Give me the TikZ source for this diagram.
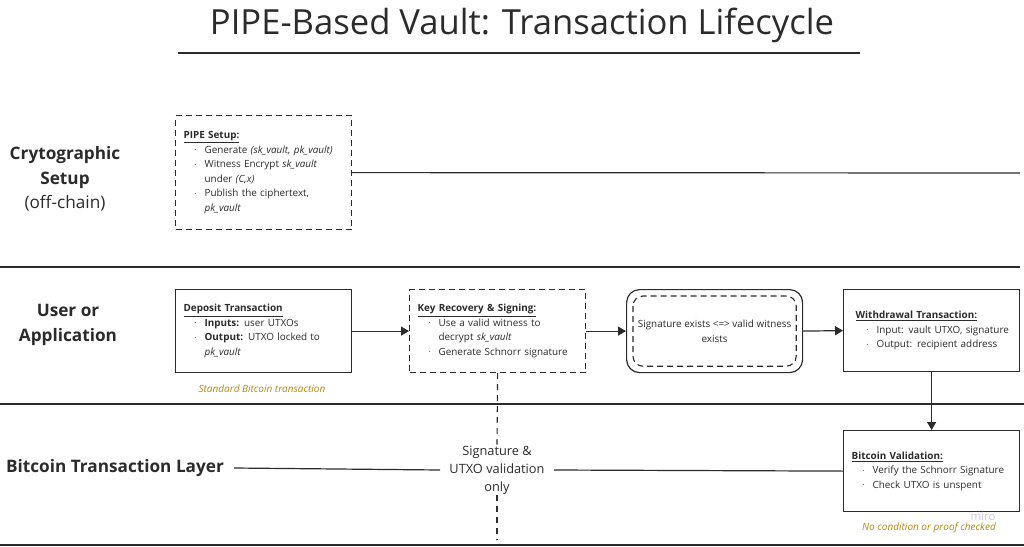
\documentclass[tikz,border=0pt]{standalone}
\usepackage{fontspec}
\setmainfont{Open Sans}
\usetikzlibrary{arrows.meta}
\definecolor{gold}{HTML}{B8860B}
\definecolor{ink}{HTML}{2B2B2B}
\definecolor{miroc}{HTML}{C9C9DD}
\newcommand{\bl}{\leavevmode\hbox to 21pt{\hskip 11pt\raisebox{1.5pt}{\fontsize{4.5}{4.5}\selectfont\textbullet}\hss}}
\newcommand{\ind}{\leavevmode\hbox to 21pt{\hss}}
\newcommand{\sh}{\leavevmode\hbox to 4pt{\hss}}
\newcommand{\hd}[1]{\underline{\textbf{#1}}}
\tikzset{
  box/.style={draw=ink, line width=1.2pt, anchor=north west, inner xsep=8pt,
    text width=160pt, align=left, font=\fontsize{9.9}{14.5}\selectfont, text=ink},
  dbox/.style={box, dash pattern=on 6pt off 4pt},
  conn/.style={draw=ink, line width=1.2pt, -{Triangle[length=8pt,width=9pt]}},
  plain/.style={draw=ink, line width=1.2pt},
  lane/.style={font=\fontsize{17.2}{24.5}\selectfont, align=center, text=ink},
  gnote/.style={font=\fontsize{10}{10}\selectfont\itshape, text=gold},
}
\begin{document}
\begin{tikzpicture}[x=1pt,y=-1pt]
\useasboundingbox (0,0) rectangle (1024,546);
% title
\node[font=\fontsize{34.6}{38}\selectfont, text=ink] (title) at (522,25) {PIPE-Based Vault: Transaction Lifecycle};
\draw[plain] (178,53) -- (860,53);
% lane separators
\draw[plain] (0,267) -- (1020,267);
\draw[plain] (0,404) -- (1024,404);
\draw[plain] (0,545) -- (1024,545);
% lane labels
\node[lane] (l1) at (65,179) {\textbf{Crytographic}\\\textbf{Setup}\\(off-chain)};
\node[lane] (l2) at (68,325) {\textbf{User or}\\\textbf{Application}};
\node[lane, inner xsep=10pt] (l3) at (115,468) {\textbf{Bitcoin Transaction Layer}};
% boxes
\node[dbox, minimum height=114pt] (pipe) at (175,115) {\hd{PIPE Setup:}\\
\bl Generate \textit{(sk\_vault, pk\_vault)}\\
\bl Witness Encrypt \textit{sk\_vault}\\
\ind under \textit{(C,x)}\\
\bl Publish the ciphertext,\\
\ind\textit{pk\_vault}};
\coordinate (pend) at (1020,173);
\draw[plain] (pipe.east) -- (pend);

\node[box, minimum height=83pt] (dep) at (175,289) {\hd{Deposit Transaction}\\
\bl\textbf{Inputs:} user UTXOs\\
\bl\textbf{Output:} UTXO locked to\\
\ind\textit{pk\_vault}};
\node[gnote] (n1) at (262,389) {Standard Bitcoin transaction};

\node[dbox, minimum height=83pt] (key) at (409,289) {\hd{Key Recovery \& Signing:}\\
\bl Use a valid witness to\\
\ind decrypt \textit{sk\_vault}\\
\bl Generate Schnorr signature};

\node[draw=ink, line width=1.2pt, rounded corners=13pt, anchor=north west,
  minimum width=176pt, minimum height=83pt, align=center, text=ink,
  font=\fontsize{9.9}{14.5}\selectfont] (sig) at (626,289)
  {Signature exists <=> valid witness\\exists};
\draw[draw=ink, line width=1.1pt, dash pattern=on 6pt off 4pt, rounded corners=10pt]
  ([shift={(7,7)}]sig.north west) rectangle ([shift={(-7,-7)}]sig.south east);

\node[box, minimum height=82pt] (wd) at (843,289) {\sh\hd{Withdrawal Transaction:}\\
\sh\bl Input: vault UTXO, signature\\
\sh\bl Output: recipient address};

\node[box, minimum height=81pt] (val) at (843,430) {\hd{Bitcoin Validation:}\\
\bl Verify the Schnorr Signature\\
\bl Check UTXO is unspent};
\node[font=\fontsize{11.5}{12}\selectfont, text=miroc] (miro) at (983,516) {miro};
\node[gnote] (n2) at (929,528) {No condition or proof checked};

% middle label
\node[font=\fontsize{12.8}{18}\selectfont, align=center, text=ink, inner xsep=9pt, inner ysep=1pt] (mid) at (497,470)
  {Signature \&\\UTXO validation\\only};
\coordinate (vend) at (497,540);

% connectors
\draw[conn] (dep.east) -- (key.west);
\draw[conn] (key.east) -- (sig.west);
\draw[conn] (sig.east) -- (wd.west);
\draw[conn] (wd.south) -- (val.north);
\draw[plain] (l3.east) -- (mid.west);
\draw[plain] (mid.east) -- (val.west);
\draw[draw=ink, line width=1.1pt, dash pattern=on 6pt off 5pt] (key.south) -- (mid.north);
\draw[draw=ink, line width=1.1pt, dash pattern=on 6pt off 5pt] (mid.south) -- (vend);
\end{tikzpicture}
\end{document}
